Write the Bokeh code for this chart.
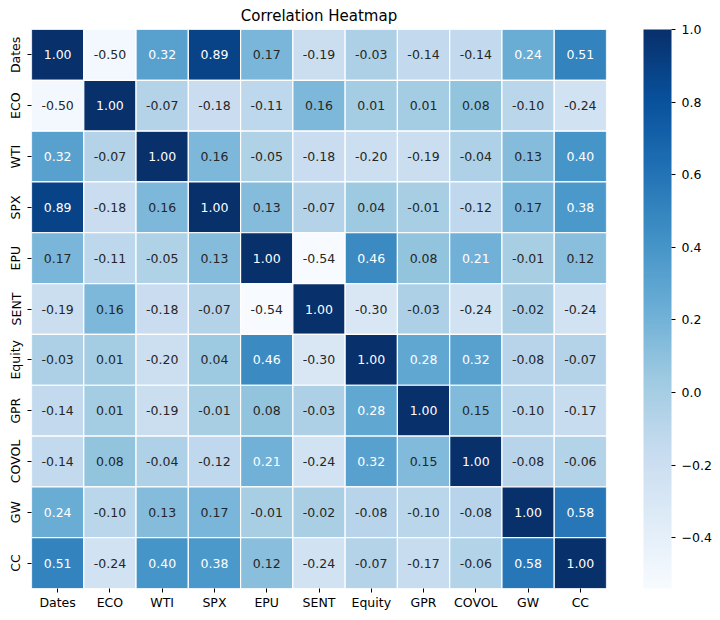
import numpy as np
from bokeh.plotting import figure
from bokeh.models import ColumnDataSource, LinearColorMapper, ColorBar, FixedTicker, CustomJSTickFormatter
from bokeh.palettes import Blues256
from bokeh.transform import transform
from bokeh.core.properties import value
from bokeh.embed import file_html
from bokeh.resources import INLINE

labels = ["Dates", "ECO", "WTI", "SPX", "EPU", "SENT", "Equity", "GPR", "COVOL", "GW", "CC"]
row_dates = [1.00, -0.50, 0.32, 0.89, 0.17, -0.19, -0.03, -0.14, -0.14, 0.24, 0.51]
row_eco = [-0.50, 1.00, -0.07, -0.18, -0.11, 0.16, 0.01, 0.01, 0.08, -0.10, -0.24]
row_wti = [0.32, -0.07, 1.00, 0.16, -0.05, -0.18, -0.20, -0.19, -0.04, 0.13, 0.40]
row_spx = [0.89, -0.18, 0.16, 1.00, 0.13, -0.07, 0.04, -0.01, -0.12, 0.17, 0.38]
row_epu = [0.17, -0.11, -0.05, 0.13, 1.00, -0.54, 0.46, 0.08, 0.21, -0.01, 0.12]
row_sent = [-0.19, 0.16, -0.18, -0.07, -0.54, 1.00, -0.30, -0.03, -0.24, -0.02, -0.24]
row_equity = [-0.03, 0.01, -0.20, 0.04, 0.46, -0.30, 1.00, 0.28, 0.32, -0.08, -0.07]
row_gpr = [-0.14, 0.01, -0.19, -0.01, 0.08, -0.03, 0.28, 1.00, 0.15, -0.10, -0.17]
row_covol = [-0.14, 0.08, -0.04, -0.12, 0.21, -0.24, 0.32, 0.15, 1.00, -0.08, -0.06]
row_gw = [0.24, -0.10, 0.13, 0.17, -0.01, -0.02, -0.08, -0.10, -0.08, 1.00, 0.58]
row_cc = [0.51, -0.24, 0.40, 0.38, 0.12, -0.24, -0.07, -0.17, -0.06, 0.58, 1.00]
colorbar_ticks = [-0.4, -0.2, 0.0, 0.2, 0.4, 0.6, 0.8, 1.0]

rows = [row_dates, row_eco, row_wti, row_spx, row_epu, row_sent,
        row_equity, row_gpr, row_covol, row_gw, row_cc]

vmin, vmax = -0.54, 1.0
palette = list(reversed(Blues256))

def color_for(v):
    t = (v - vmin) / (vmax - vmin)
    idx = int(min(max(t, 0), 1) * 255.999)
    return palette[idx]

def rel_lum(hexc):
    rgb = [int(hexc[i:i + 2], 16) / 255.0 for i in (1, 3, 5)]
    rgb = [c / 12.92 if c <= 0.03928 else ((c + 0.055) / 1.055) ** 2.4 for c in rgb]
    return 0.2126 * rgb[0] + 0.7152 * rgb[1] + 0.0722 * rgb[2]

xs, ys, vals, txt, tcol = [], [], [], [], []
for r, row in zip(labels, rows):
    for c, v in zip(labels, row):
        xs.append(c)
        ys.append(r)
        vals.append(v)
        txt.append(f"{v:.2f}")
        tcol.append("#262626" if rel_lum(color_for(v)) > 0.408 else "#ffffff")

src = ColumnDataSource(dict(x=xs, y=ys, v=vals, t=txt, tc=tcol))
mapper = LinearColorMapper(palette=palette, low=vmin, high=vmax)

p = figure(frame_width=575, frame_height=559, x_range=labels, y_range=list(reversed(labels)),
           output_backend="svg", toolbar_location=None,
           min_border_left=31, min_border_top=29, min_border_bottom=24, min_border_right=0)
p.title.text = "Correlation Heatmap"
p.title.align = "center"
p.title.text_font = "DejaVu Sans"
p.title.text_font_size = "15px"
p.title.text_font_style = "normal"
p.title.text_color = "black"
p.title.standoff = 9

p.rect(x="x", y="y", width=1, height=1, source=src,
       fill_color=transform("v", mapper), line_color="white", line_width=1.2)
p.text(x="x", y="y", text="t", source=src, text_color="tc",
       text_align="center", text_baseline="middle",
       text_font=value("DejaVu Sans"), text_font_size="12.5px")

p.grid.visible = False
p.outline_line_color = None
for ax in (p.xaxis, p.yaxis):
    ax.axis_line_color = None
    ax.major_tick_line_color = "black"
    ax.major_tick_out = 4
    ax.major_tick_in = 0
    ax.minor_tick_line_color = None
    ax.major_label_text_font = "DejaVu Sans"
    ax.major_label_text_font_size = "12.5px"
    ax.major_label_text_color = "black"
    ax.major_label_standoff = 4
p.xaxis.major_label_standoff = 2
p.yaxis.major_label_orientation = "vertical"

cb = ColorBar(color_mapper=mapper, width=28, height=559, padding=0, margin=0,
              location=(37, 0),
              ticker=FixedTicker(ticks=colorbar_ticks),
              formatter=CustomJSTickFormatter(code="return tick.toFixed(1).replace('-', '\u2212');"),
              major_tick_line_color="black", major_tick_out=4, major_tick_in=0,
              minor_tick_line_color=None, bar_line_color=None,
              label_standoff=6, major_label_text_font="DejaVu Sans",
              major_label_text_font_size="12.5px", major_label_text_color="black",
              background_fill_color=None)
p.add_layout(cb, "right")

open("out.html", "w").write(file_html(p, INLINE))
